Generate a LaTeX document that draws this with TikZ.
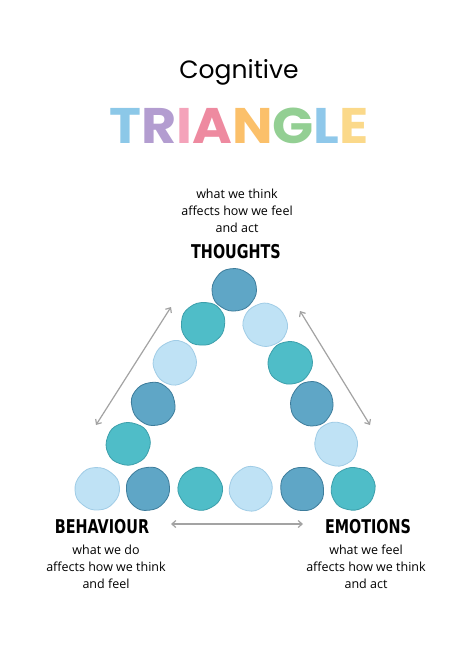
\documentclass[tikz,border=0pt]{standalone}
\usepackage{fontspec}
\setmainfont{Open Sans}
\newfontfamily\headfont{DejaVu Sans Condensed}
\newfontfamily\titlefont{Poppins}
\usetikzlibrary{arrows.meta}
\definecolor{bdark}{HTML}{5FA6C6}
\definecolor{bdarkline}{HTML}{3D7C9B}
\definecolor{bteal}{HTML}{4FBDC8}
\definecolor{btealline}{HTML}{3C9FAB}
\definecolor{blight}{HTML}{BFE2F5}
\definecolor{blightline}{HTML}{A0CCE6}
\definecolor{arrowgray}{HTML}{A3A3A3}
\definecolor{tT}{HTML}{8CC8E8}
\definecolor{tR}{HTML}{B39DD0}
\definecolor{tI}{HTML}{F4A3BA}
\definecolor{tA}{HTML}{EE8AA0}
\definecolor{tN}{HTML}{FBC06A}
\definecolor{tG}{HTML}{93CF93}
\definecolor{tL}{HTML}{8FC8EA}
\definecolor{tE}{HTML}{FBD98A}
\tikzset{
  blob/.pic={
    \path[pic actions] plot[smooth cycle,tension=0.8] coordinates
      {(22.5,0) (15.5,15) (0,21) (-15.5,14.5) (-22,0) (-15,-15.5) (0,-21.5) (16,-14.5)};
  },
  bd/.style={fill=bdark,draw=bdarkline,line width=0.8pt},
  bt/.style={fill=bteal,draw=btealline,line width=0.8pt},
  bl/.style={fill=blight,draw=blightline,line width=0.8pt},
  gray arrow/.style={draw=arrowgray,line width=1.2pt,
    {Straight Barb[length=4pt,width=7pt]}-{Straight Barb[length=4pt,width=7pt]}},
  smalltext/.style={align=center,font=\fontsize{12.5}{17}\selectfont},
  headtext/.style={font=\headfont\bfseries\fontsize{19}{22}\selectfont,xscale=0.84},
}
\begin{document}
\begin{tikzpicture}[x=1pt,y=-1pt]
\useasboundingbox[fill=white] (0,0) rectangle (474,663);
% title
\node[font=\titlefont\fontsize{25}{30}\selectfont] (cog) at (239,72) {Cognitive};
\node[font=\titlefont\bfseries\fontsize{50}{54}\selectfont,inner sep=0pt,xscale=1.08] (tri) at (239,126)
  {\textcolor{tT}{T}\textcolor{tR}{R}\textcolor{tI}{I}\textcolor{tA}{A}\textcolor{tN}{N}\textcolor{tG}{G}\textcolor{tL}{L}\textcolor{tE}{E}};
% thoughts
\node[smalltext] (thtxt) at (237,211) {what we think\\affects how we feel\\and act};
\node[headtext] (thoughts) at (236,252) {THOUGHTS};
% blobs
\pic[bd,rotate=10] (b1) at (234,290) {blob};
\pic[bt,rotate=40] (b2) at (203,324) {blob};
\pic[bl,rotate=-20] (b3) at (265,325) {blob};
\pic[bl,rotate=70] (b4) at (175,363) {blob};
\pic[bt,rotate=15] (b5) at (290,363) {blob};
\pic[bd,rotate=-35] (b6) at (153,404) {blob};
\pic[bd,rotate=100] (b7) at (312,404) {blob};
\pic[bt,rotate=25] (b8) at (128,444) {blob};
\pic[bl,rotate=-60] (b9) at (336,444) {blob};
\pic[bl,rotate=5] (c1) at (97,489) {blob};
\pic[bd,rotate=50] (c2) at (148,489) {blob};
\pic[bt,rotate=-15] (c3) at (200,489) {blob};
\pic[bl,rotate=80] (c4) at (251,489) {blob};
\pic[bd,rotate=-45] (c5) at (302,489) {blob};
\pic[bt,rotate=30] (c6) at (353,489) {blob};
% arrows
\coordinate (la) at (96,425);
\coordinate (lb) at (171,307);
\coordinate (ra) at (300,311);
\coordinate (rb) at (370,425);
\coordinate (ba) at (171,524);
\coordinate (bb) at (303,524);
\draw[gray arrow] (la) -- (lb);
\draw[gray arrow] (ra) -- (rb);
\draw[gray arrow] (ba) -- (bb);
% behaviour
\node[headtext] (beh) at (102,527) {BEHAVIOUR};
\node[smalltext] (behtxt) at (106,567) {what we do\\affects how we think\\and feel};
% emotions
\node[headtext] (emo) at (368,527) {EMOTIONS};
\node[smalltext] (emotxt) at (366,567) {what we feel\\affects how we think\\and act};
\end{tikzpicture}
\end{document}
